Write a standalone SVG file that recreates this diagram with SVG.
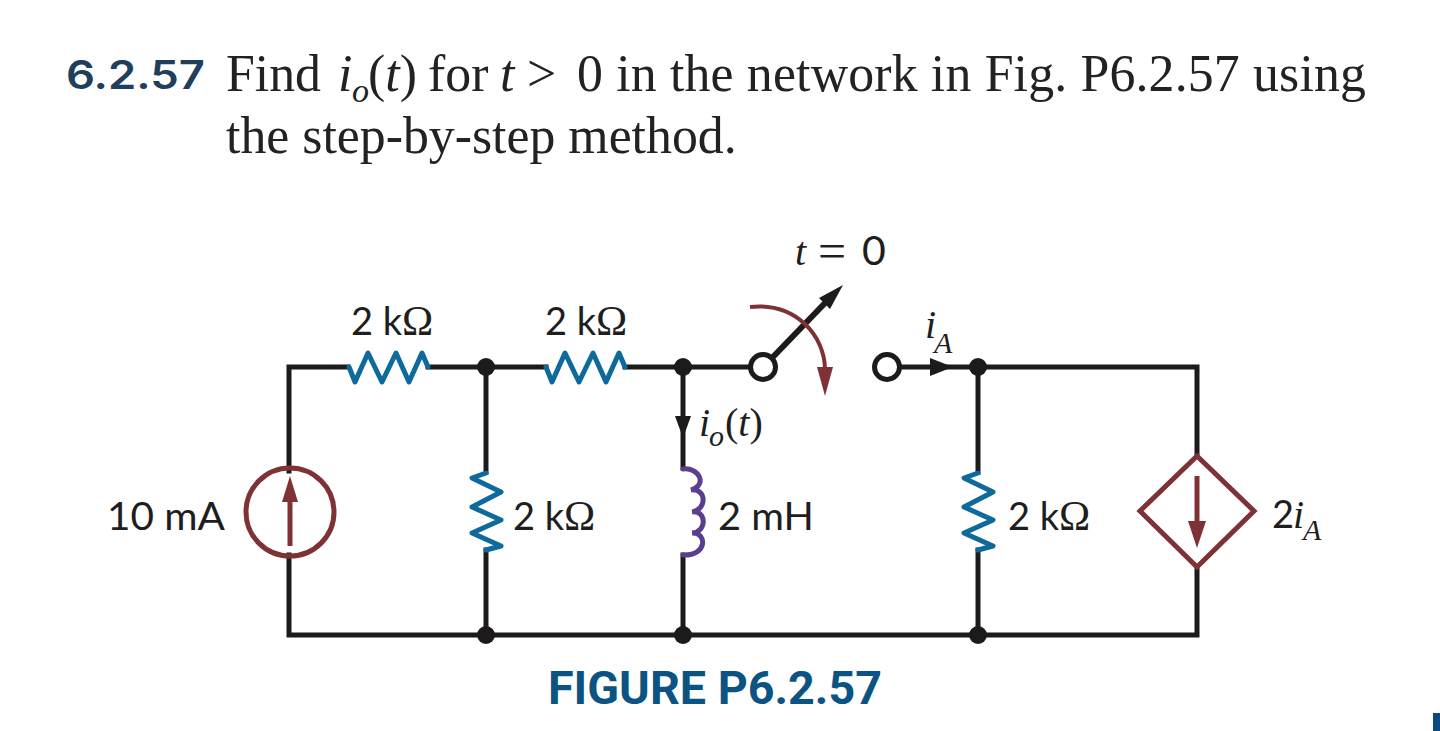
<svg xmlns="http://www.w3.org/2000/svg" width="1440" height="731" viewBox="0 0 1440 731">
<style>
.w{fill:none;stroke:#1c1a1b;stroke-width:5;stroke-linejoin:miter;stroke-linecap:square}
.r{fill:none;stroke:#0f6a9c;stroke-width:5;stroke-linejoin:round;stroke-linecap:round}
.s{fill:none;stroke:#7e3236;stroke-width:5}
.f{fill:#7e3236}
.k{fill:#1c1a1b}
.d{fill:#1c1a1b}
.o{fill:#fff;stroke:#1c1a1b;stroke-width:5}
.b{font-family:"Liberation Serif",serif;font-size:51.8px;fill:#222}
.l{font-family:"Lato","Liberation Sans",sans-serif;font-size:38px;fill:#1e1e1e}
.g{font-family:"Liberation Serif",serif;font-size:42px}
.m{font-family:"Liberation Serif",serif;font-style:italic;fill:#1e1e1e}
</style>
<rect width="1440" height="731" fill="#fff"/>
<g id="problem-text">
<text x="66" y="89" textLength="139" lengthAdjust="spacingAndGlyphs" style="font-family:'Inter','Liberation Sans',sans-serif;font-weight:600;font-size:39px;fill:#1f3f5c">6.2.57</text>
<text class="b" x="226" y="91">Find</text>
<text class="b" x="338" y="91" font-style="italic">i</text>
<text class="b" x="352" y="102" font-style="italic" style="font-size:34px">o</text>
<text class="b" x="368" y="91">(<tspan font-style="italic">t</tspan>)</text>
<text class="b" x="428" y="91">for</text>
<text class="b" x="500" y="91" font-style="italic">t</text>
<text class="b" x="527" y="91">&gt;</text>
<text class="b" x="577" y="91" textLength="789" lengthAdjust="spacing">0 in the network in Fig. P6.2.57 using</text>
<text class="b" x="226" y="153">the step-by-step method.</text>
</g>
<g id="connectors">
<path class="w" d="M289 471V367H348M428 367H546M625 367H750M900 367H1197V455M1197 568V635H289V555"/>
<path class="w" d="M486 367V472M486 550V635M683 367V468M683 555V635M978 367V472M978 550V635"/>
<path d="M771 359L826 302" fill="none" stroke="#1c1a1b" stroke-width="6"/>
<path class="k" d="M843 285L830 309L819 298Z"/>
<path class="k" d="M953 367L930 358V376Z"/>
<path class="k" d="M683 438L675 416H691Z"/>
</g>
<g id="source-10ma">
<circle cx="290" cy="512" r="44" fill="#fff" class="s"/>
<path class="s" d="M290 546V490"/>
<path class="f" d="M290 476L298 502H282Z"/>
<text class="l" x="107" y="530" textLength="118" lengthAdjust="spacingAndGlyphs">10 mA</text>
</g>
<g id="r1">
<path class="r" d="M349 367L355 382L368 353L382 382L396 353L409 382L422 353L428 367"/>
<text class="l" x="351" y="335">2 k<tspan class="g">Ω</tspan></text>
</g>
<g id="r2">
<path class="r" d="M546 367L552 382L565 353L579 382L593 353L606 382L619 353L625 367"/>
<text class="l" x="545" y="335">2 k<tspan class="g">Ω</tspan></text>
</g>
<g id="r3">
<path class="r" d="M486 473L472 478L501 492L472 507L501 520L472 533L501 546L486 550"/>
<text class="l" x="513" y="530">2 k<tspan class="g">Ω</tspan></text>
</g>
<g id="l1">
<path d="M683 469C699 467 708 485 691 490C707 488 707 510 692 512C707 510 707 532 692 533C707 532 708 556 683 555" fill="none" stroke="#5b3f8e" stroke-width="5" stroke-linecap="round"/>
<text class="l" x="718" y="530" textLength="96" lengthAdjust="spacingAndGlyphs">2 mH</text>
</g>
<g id="r4">
<path class="r" d="M978 473L964 478L993 492L964 507L993 520L964 533L993 546L978 550"/>
<text class="l" x="1008" y="530">2 k<tspan class="g">Ω</tspan></text>
</g>
<g id="source-dep">
<path class="s" d="M1197 456L1254 511L1197 567L1140 511Z" fill="#fff"/>
<path class="s" d="M1197 476V525"/>
<path class="f" d="M1197 548L1188 521H1206Z"/>
<text class="l" x="1272" y="528">2</text>
<text class="m" x="1293" y="528" style="font-size:40px">i</text>
<text class="m" x="1303" y="540" style="font-size:30px">A</text>
</g>
<g id="switch">
<path d="M750 307C795 302 825 335 825 370" class="s" style="stroke-width:4"/>
<path class="f" d="M825 396L817 367H833Z"/>
<circle class="o" cx="763" cy="367" r="12.5"/>
<circle class="o" cx="887" cy="367" r="12.5"/>
<text class="m" x="795" y="265" style="font-size:40px">t</text>
<text x="818" y="268" style="font-family:'Liberation Serif',serif;font-size:50px;fill:#1e1e1e">=</text>
<text class="l" x="862" y="265" style="font-size:41px">0</text>
</g>
<g id="label-ia">
<text class="m" x="925" y="338" style="font-size:40px">i</text>
<text class="m" x="934" y="353" style="font-size:30px">A</text>
</g>
<g id="label-io">
<text class="m" x="699" y="436" style="font-size:40px">i</text>
<text class="m" x="709" y="446" style="font-size:30px">o</text>
<text x="725" y="436" style="font-family:'Liberation Serif',serif;font-size:40px;fill:#1e1e1e">(<tspan font-style="italic">t</tspan>)</text>
</g>
<g id="junctions">
<circle class="d" cx="486" cy="367" r="9"/>
<circle class="d" cx="683" cy="367" r="9"/>
<circle class="d" cx="978" cy="367" r="9"/>
<circle class="d" cx="486" cy="635" r="9"/>
<circle class="d" cx="683" cy="635" r="9"/>
<circle class="d" cx="978" cy="635" r="9"/>
</g>
<g id="caption">
<text x="548" y="704" textLength="334" lengthAdjust="spacingAndGlyphs" style="font-family:'Roboto','Liberation Sans',sans-serif;font-weight:700;font-size:46px;fill:#0b5383">FIGURE P6.2.57</text>
</g>
<rect x="1433" y="713" width="7" height="18" fill="#0b4a80"/>
</svg>
